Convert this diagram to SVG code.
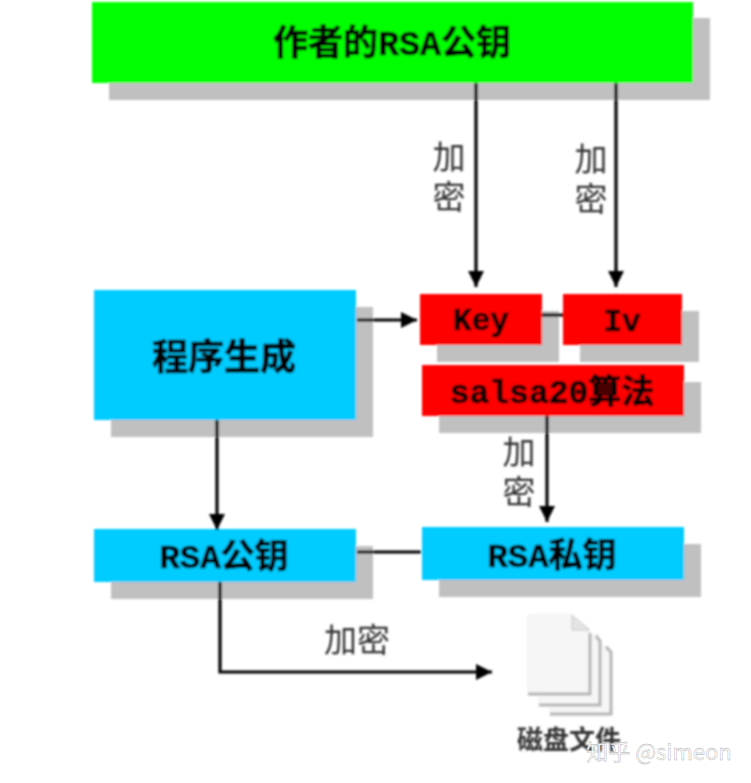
<svg xmlns="http://www.w3.org/2000/svg" width="751" height="783" viewBox="0 0 751 783">
<style>
.sh{fill:#c0c0c0}
.lbl{font-family:"Liberation Mono","Noto Sans CJK SC",monospace;font-weight:700;fill:#000;stroke:#000;stroke-width:.7;text-anchor:middle}
.cap{font-family:"Noto Sans CJK SC",sans-serif;font-size:33px;fill:#333;text-anchor:middle}
.ln{fill:none;stroke:#000;stroke-width:3.2}
.pg{fill:#f6f6f6;stroke:none}
.pe{fill:none;stroke:#b4b4b4;stroke-width:3}
</style>
<defs>
<marker id="ah" markerUnits="userSpaceOnUse" markerWidth="18" markerHeight="18" refX="16" refY="8" orient="auto"><path d="M0 0L16 8L0 16Z" fill="#000"/></marker>
<filter id="soft" x="-5%" y="-5%" width="110%" height="110%"><feGaussianBlur stdDeviation="0.8"/></filter>
</defs>
<rect width="751" height="783" fill="#fff"/>
<g filter="url(#soft)">
<g id="node-author-key"><rect class="sh" x="109" y="18" width="601" height="82"/><rect x="92" y="2" width="601" height="81" fill="#00ff00"/><text class="lbl" x="392" y="55" font-size="35">作者的RSA公钥</text></g>
<g id="node-generate"><rect class="sh" x="111" y="307" width="262" height="130"/><rect x="94" y="290" width="262" height="130" fill="#00ccff"/><text class="lbl" x="224" y="370" font-size="36">程序生成</text></g>
<g id="node-key"><rect class="sh" x="437" y="311" width="122" height="51"/><rect x="420" y="294" width="122" height="51" fill="#ff0000"/><text class="lbl" x="481" y="330" font-size="31">Key</text></g>
<g id="node-iv"><rect class="sh" x="580" y="311" width="119" height="51"/><rect x="563" y="294" width="119" height="51" fill="#ff0000"/><text class="lbl" x="622" y="331" font-size="31">Iv</text></g>
<g id="node-salsa"><rect class="sh" x="439" y="382" width="262" height="51"/><rect x="422" y="365" width="262" height="51" fill="#ff0000"/><text class="lbl" x="552" y="403" font-size="33">salsa20算法</text></g>
<g id="node-rsa-pub"><rect class="sh" x="111" y="546" width="262" height="53"/><rect x="94" y="529" width="262" height="53" fill="#00ccff"/><text class="lbl" x="224" y="568" font-size="34">RSA公钥</text></g>
<g id="node-rsa-priv"><rect class="sh" x="439" y="544" width="262" height="53"/><rect x="422" y="527" width="262" height="53" fill="#00ccff"/><text class="lbl" x="552" y="567" font-size="34">RSA私钥</text></g>
<g id="connectors">
<path class="ln" d="M476 83V287" marker-end="url(#ah)"/>
<path class="ln" d="M616 83V287" marker-end="url(#ah)"/>
<path class="ln" d="M357 320H417" marker-end="url(#ah)"/>
<path class="ln" d="M542 315H563"/>
<path class="ln" d="M547 416V522" marker-end="url(#ah)"/>
<path class="ln" d="M217 420V530" marker-end="url(#ah)"/>
<path class="ln" d="M357 552H421"/>
<path class="ln" d="M220 582V672H492" marker-end="url(#ah)"/>
</g>
<g id="edge-labels">
<text class="cap" x="449" y="169">加</text><text class="cap" x="449" y="209">密</text>
<text class="cap" x="591" y="171">加</text><text class="cap" x="591" y="211">密</text>
<text class="cap" x="519" y="464">加</text><text class="cap" x="519" y="504">密</text>
<text class="cap" x="357" y="652">加密</text>
</g>
<g id="node-disk-files">
<path class="pg" d="M549 645H610V717H549Z"/><path class="pe" d="M606 647L611 652V714H550"/>
<path class="pg" d="M538 634H600V706H538Z"/><path class="pe" d="M596 636L600 641V705H539"/>
<path class="pg" d="M528 615H572L590 633V694H528Z" style="stroke:#ececec"/>
<path class="pe" d="M590 633V694H528"/>
<path d="M572 615V630H590Z" fill="#e4e4e4" stroke="#c8c8c8"/>
<text x="569" y="749" font-family="'Noto Sans CJK SC',sans-serif" font-weight="700" font-size="26" fill="#333" text-anchor="middle">磁盘文件</text>
</g>
</g>
<text x="659" y="760" font-family="'Noto Sans CJK SC',sans-serif" font-size="22" fill="#fff" stroke="#aaa" stroke-width="0.4" text-anchor="middle">知乎 @simeon</text>
</svg>
